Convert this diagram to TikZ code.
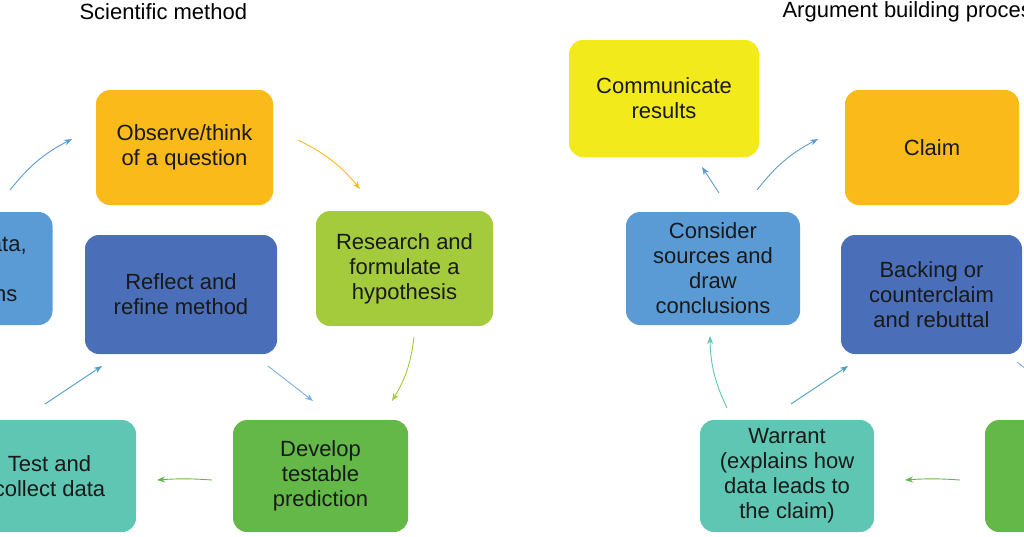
\documentclass[tikz,border=0pt]{standalone}
\usepackage{fontspec}
\setmainfont{Liberation Sans}
\usetikzlibrary{arrows.meta}
\definecolor{cOr}{HTML}{F9BA1A}
\definecolor{cLg}{HTML}{A3CB3B}
\definecolor{cDb}{HTML}{4A6EB8}
\definecolor{cBl}{HTML}{5B9BD5}
\definecolor{cGr}{HTML}{63B847}
\definecolor{cTe}{HTML}{5EC6B2}
\definecolor{cYe}{HTML}{F2EA1B}
\tikzset{
 box/.style={draw=none,rounded corners=14pt,align=center,text=black!90,
   font=\fontsize{22}{25}\selectfont,inner sep=0pt},
 arr/.style={-{Stealth[length=8pt,width=6pt]},line width=0.9pt},
 ttl/.style={font=\fontsize{22}{24}\selectfont,anchor=west}
}
\begin{document}
\begin{tikzpicture}[x=1pt,y=-1pt]
\useasboundingbox (0,0) rectangle (1024,536);
\clip (0,0) rectangle (1024,536);
\node[ttl] (t1) at (76,12) {Scientific method};
\node[ttl] (t2) at (779,12) {Argument building process};
% scientific
\node[box,fill=cOr,minimum width=177pt,minimum height=115pt] (obs) at (184.5,147.5) {Observe/think\\of a question};
\node[box,fill=cLg,minimum width=177pt,minimum height=115pt] (res) at (404.5,268.5) {Research and\\formulate a\\hypothesis};
\node[box,fill=cDb,minimum width=192pt,minimum height=119pt] (ref) at (181,294.5) {Reflect and\\refine method};
\node[box,fill=cBl,minimum width=185pt,minimum height=113pt] (ana) at (-40,268.5) {Analyze data,\\draw\\conclusions};
\node[box,fill=cGr,minimum width=175pt,minimum height=112pt] (dev) at (320.5,476) {Develop\\testable\\prediction};
\node[box,fill=cTe,minimum width=173pt,minimum height=112pt] (tst) at (49.5,476) {Test and\\collect data};
% argument
\node[box,fill=cYe,minimum width=190pt,minimum height=117pt] (com) at (664,98.5) {Communicate\\results};
\node[box,fill=cOr,minimum width=174pt,minimum height=115pt] (clm) at (932,147.5) {Claim};
\node[box,fill=cBl,minimum width=174pt,minimum height=113pt] (con) at (713,268.5) {Consider\\sources and\\draw\\conclusions};
\node[box,fill=cDb,minimum width=181pt,minimum height=119pt] (bac) at (931.5,294.5) {Backing or\\counterclaim\\and rebuttal};
\node[box,fill=cTe,minimum width=174pt,minimum height=112pt] (war) at (787,476) {Warrant\\(explains how\\data leads to\\the claim)};
\node[box,fill=cGr,minimum width=174pt,minimum height=112pt] (dat) at (1072,476) {};
% arrows
\coordinate (a1) at (10,190); \coordinate (a2) at (72,139);
\draw[arr,cBl] (a1) to[bend left=12] (a2);
\coordinate (b1) at (298,140); \coordinate (b2) at (360,189);
\draw[arr,cOr] (b1) to[bend left=12] (b2);
\coordinate (c1) at (414,337); \coordinate (c2) at (392,401);
\draw[arr,cLg] (c1) to[bend left=12] (c2);
\coordinate (d1) at (268,366); \coordinate (d2) at (313,401);
\draw[arr,cBl!80] (d1) -- (d2);
\coordinate (e1) at (212,480); \coordinate (e2) at (157,480);
\draw[arr,cGr] (e1) to[bend right=4] (e2);
\coordinate (f1) at (45,404); \coordinate (f2) at (102,366);
\draw[arr,cTe!80!blue] (f1) -- (f2);
\coordinate (g1) at (719,193); \coordinate (g2) at (702,167);
\draw[arr,cBl] (g1) -- (g2);
\coordinate (h1) at (757,190); \coordinate (h2) at (818,139);
\draw[arr,cBl] (h1) to[bend left=12] (h2);
\coordinate (i1) at (727,408); \coordinate (i2) at (710,336);
\draw[arr,cTe] (i1) to[bend left=12] (i2);
\coordinate (j1) at (791,404); \coordinate (j2) at (848,366);
\draw[arr,cTe!80!blue] (j1) -- (j2);
\coordinate (k1) at (960,480); \coordinate (k2) at (905,480);
\draw[arr,cGr] (k1) to[bend right=4] (k2);
\coordinate (l1) at (1017,362); \coordinate (l2) at (1040,380);
\draw[line width=0.9pt,cBl!80] (l1) -- (l2);
\end{tikzpicture}
\end{document}
